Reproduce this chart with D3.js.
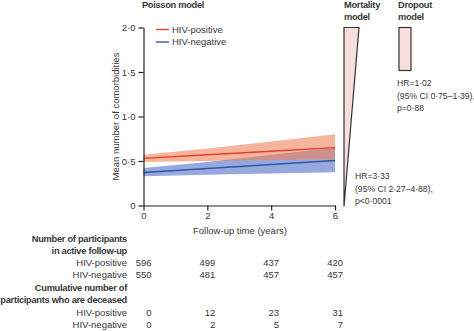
<!DOCTYPE html>
<html>
<head>
<meta charset="utf-8">
<script src="https://cdn.jsdelivr.net/npm/d3@7"></script>
<style>
  body { margin: 0; background: #fff; }
  svg text { font-family: "Liberation Sans", Arial, sans-serif; fill: #383838; }
</style>
</head>
<body>
<svg id="chart" width="474" height="331"></svg>
<script>
const years = [0, 2, 4, 6];
const posMean = [0.53, 0.57, 0.61, 0.65];
const posLow = [0.49, 0.50, 0.51, 0.52];
const posHigh = [0.57, 0.64, 0.72, 0.80];
const negMean = [0.37, 0.415, 0.46, 0.505];
const negLow = [0.33, 0.345, 0.36, 0.375];
const negHigh = [0.42, 0.49, 0.57, 0.65];

const yTicks = [0, 0.5, 1, 1.5, 2];
const groups = ["HIV-positive", "HIV-negative"];

const activePos = [596, 499, 437, 420];
const activeNeg = [550, 481, 457, 457];
const deceasedPos = [0, 12, 23, 31];
const deceasedNeg = [0, 2, 5, 7];

const mortalityHR = ["HR=3·33", "(95% CI 2·27–4·88),", "p<0·0001"];
const dropoutHR = ["HR=1·02", "(95% CI 0·75–1·39),", "p=0·88"];

const red = "#e2402f", blue = "#2f58a4";
const fs = 9.5;
const fmtY = d => d === 0 ? "0" : d3.format(".1f")(d).replace(".", "·");

const svg = d3.select("#chart");
const x = d3.scaleLinear().domain([0, 6]).range([143.5, 335]);
const y = d3.scaleLinear().domain([0, 2]).range([205.5, 27.5]);

const pts = arr => years.map((t, i) => ({ t, v: arr[i] }));
const band = (lo, hi) => years.map((t, i) => ({ t, lo: lo[i], hi: hi[i] }));
const area = d3.area().x(d => x(d.t)).y0(d => y(d.lo)).y1(d => y(d.hi));
const line = d3.line().x(d => x(d.t)).y(d => y(d.v));

// bands: blue below, red translucent on top
svg.append("path").attr("d", area(band(negLow, negHigh))).attr("fill", "#96a8dc");
svg.append("path").attr("d", area(band(posLow, posHigh))).attr("fill", "#f0825a").attr("fill-opacity", 0.6);
svg.append("path").attr("d", line(pts(negMean))).attr("fill", "none").attr("stroke", blue).attr("stroke-width", 1.4);
svg.append("path").attr("d", line(pts(posMean))).attr("fill", "none").attr("stroke", red).attr("stroke-width", 1.4);

// axes
const yAxis = svg.append("g").attr("transform", `translate(${x(0)},0)`)
  .call(d3.axisLeft(y).tickValues(yTicks).tickFormat(fmtY).tickSize(5).tickSizeOuter(0).tickPadding(3));
const xAxis = svg.append("g").attr("transform", `translate(0,${y(0)})`)
  .call(d3.axisBottom(x).tickValues(years).tickFormat(d3.format("d")).tickSize(5).tickSizeOuter(0).tickPadding(2));
[yAxis, xAxis].forEach(g => {
  g.select(".domain").attr("stroke", "#222").attr("stroke-width", 1.2);
  g.selectAll(".tick line").attr("stroke", "#222").attr("stroke-width", 1.2);
  g.selectAll(".tick text").attr("font-size", fs).attr("fill", "#383838")
    .style("font-family", "'Liberation Sans', Arial, sans-serif");
});

svg.append("text")
  .attr("transform", `translate(119,${y(1)}) rotate(-90)`)
  .attr("text-anchor", "middle").attr("font-size", fs)
  .text("Mean number of comorbidities");

svg.append("text").attr("x", 240).attr("y", 231).attr("dy", "0.35em")
  .attr("text-anchor", "middle").attr("font-size", fs)
  .text("Follow-up time (years)");

// titles
const boldText = (tx, ty, s, anchor) => svg.append("text")
  .attr("x", tx).attr("y", ty).attr("dy", "0.35em")
  .attr("text-anchor", anchor || "start")
  .attr("font-size", 9.3).attr("font-weight", "bold").attr("letter-spacing", -0.3)
  .attr("fill", "#222").text(s);
boldText(173, 5, "Poisson model", "middle");
boldText(344, 5, "Mortality");
boldText(344, 17, "model");
boldText(398, 5, "Dropout");
boldText(398, 17, "model");

// legend
groups.forEach((g, i) => {
  const ly = 29.5 + i * 12.5;
  svg.append("line").attr("x1", 156).attr("x2", 169).attr("y1", ly).attr("y2", ly)
    .attr("stroke", i === 0 ? red : blue).attr("stroke-width", 1.4);
  svg.append("text").attr("x", 172).attr("y", ly).attr("dy", "0.35em")
    .attr("font-size", fs).text(g);
});

// hazard glyphs
const glyph = "#f8dfde";
svg.append("path")
  .attr("d", `M344,${y(2)} L359,${y(2)} L344,${y(0) + 1} Z`)
  .attr("fill", glyph).attr("stroke", "#333").attr("stroke-width", 1.2);
svg.append("rect").attr("x", 399).attr("y", y(2)).attr("width", 12).attr("height", 43)
  .attr("fill", glyph).attr("stroke", "#333").attr("stroke-width", 1.2);

const hrText = (tx, ty, lines) => lines.forEach((s, i) =>
  svg.append("text").attr("x", tx).attr("y", ty + i * 12.5).attr("dy", "0.35em")
    .attr("font-size", 8.6).text(s));
hrText(355, 176, mortalityHR);
hrText(397, 83, dropoutHR);

// risk table
const labelX = 127;
const rows = [
  { y: 239, label: "Number of participants", bold: true },
  { y: 251, label: "in active follow-up", bold: true },
  { y: 263, label: groups[0], vals: activePos },
  { y: 275, label: groups[1], vals: activeNeg },
  { y: 288, label: "Cumulative number of", bold: true },
  { y: 299.5, label: "participants who are deceased", bold: true },
  { y: 313, label: groups[0], vals: deceasedPos },
  { y: 325, label: groups[1], vals: deceasedNeg }
];
rows.forEach(r => {
  if (r.bold) {
    boldText(labelX, r.y, r.label, "end");
  } else {
    svg.append("text").attr("x", labelX).attr("y", r.y).attr("dy", "0.35em")
      .attr("text-anchor", "end").attr("font-size", fs).text(r.label);
  }
  if (r.vals) {
    svg.append("g").selectAll("text").data(r.vals).join("text")
      .attr("x", (d, i) => x(years[i]) + 8)
      .attr("y", r.y).attr("dy", "0.35em")
      .attr("text-anchor", "end").attr("font-size", fs)
      .text(d => d);
  }
});
</script>
</body>
</html>
